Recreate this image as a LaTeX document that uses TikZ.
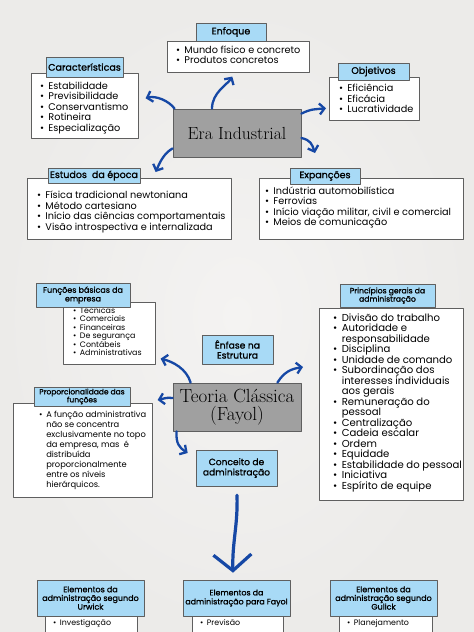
\documentclass[tikz,border=0pt]{standalone}
\usepackage{fontspec}
\usepackage{tikz}
\usetikzlibrary{arrows.meta}
\newfontfamily\popp{Poppins}
\newfontfamily\hdfont{Poppins}[FakeBold=1.2]
\definecolor{fundo}{RGB}{236,235,233}
\definecolor{fundoclaro}{RGB}{244,243,242}
\definecolor{azulcab}{RGB}{168,218,246}
\definecolor{cinzacaixa}{RGB}{160,160,160}
\definecolor{azulseta}{RGB}{22,72,165}
\definecolor{borda}{RGB}{95,95,95}
\newcommand{\bl}{\makebox[0.85em][l]{•}}
\newcommand{\ct}{\hspace*{0.85em}}
\newcommand{\fs}[2]{\fontsize{#1}{#2}\selectfont}

\begin{document}
\begin{tikzpicture}[x=1pt, y=-1pt, line join=round,
    corpo/.style={draw=borda, fill=white, line width=0.6pt, anchor=north west, inner sep=0pt},
    lista/.style={anchor=west, align=left, inner sep=0pt, font=\popp\fs{9.7}{10.5}},
    cab/.style={draw=borda, fill=azulcab, line width=0.6pt, align=center, inner sep=0pt, font=\hdfont\fs{9.5}{10}},
    central/.style={draw=borda, fill=cinzacaixa, line width=0.8pt, minimum width=128, minimum height=48, align=center, inner sep=0pt},
    seta/.style={draw=azulseta, line width=2.3pt, line cap=round, -{Straight Barb[length=5pt, width=11pt]}},
    setagrande/.style={draw=azulseta, line width=3.2pt, line cap=round, -{Straight Barb[length=16pt, width=38pt]}}]
    \useasboundingbox (0,0) rectangle (474,632);
    \clip (0,0) rectangle (474,632);
    \shade[inner color=fundoclaro, outer color=fundo] (0,0) rectangle (474,632);

    % Era Industrial
    \node[corpo, minimum width=142, minimum height=31] (enfC) at (167,41) {};
    \node[lista] (enfL) at (176,54.5) {\bl Mundo físico e concreto\\ \bl Produtos concretos};
    \node[cab, minimum width=70, minimum height=18] (enfH) at (231,32) {Enfoque};

    \node[corpo, minimum width=107, minimum height=65] (carC) at (31,73) {};
    \node[lista] (carL) at (40,108) {\bl Estabilidade\\ \bl Previsibilidade\\ \bl Conservantismo\\ \bl Rotineira\\ \bl Especialização};
    \node[cab, minimum width=77, minimum height=20] (carH) at (84.5,67) {Características};

    \node[corpo, minimum width=90, minimum height=43] (objC) at (329,77) {};
    \node[lista] (objL) at (339,98.5) {\bl Eficiência\\ \bl Eficácia\\ \bl Lucratividade};
    \node[cab, minimum width=71, minimum height=17] (objH) at (373.5,71.5) {Objetivos};

    \node[corpo, minimum width=204, minimum height=61] (estC) at (27,178) {};
    \node[lista] (estL) at (37,212) {\bl Física tradicional newtoniana\\ \bl Método cartesiano\\ \bl Início das ciências comportamentais\\ \bl Visão introspectiva e internalizada};
    \node[cab, minimum width=92, minimum height=15] (estH) at (94,175.5) {Estudos\ \ da época};

    \node[corpo, minimum width=204, minimum height=61] (expC) at (259,178) {};
    \node[lista] (expL) at (265,207.5) {\bl Indústria automobilística\\ \bl Ferrovias\\ \bl Início viação militar, civil e comercial\\ \bl Meios de comunicação};
    \node[cab, minimum width=70, minimum height=16] (expH) at (325,176) {Expanções};

    \node[central, font=\fs{17.5}{17}] (era) at (237,133) {Era Industrial};

    \draw[seta] ([shift={(2,0)}]era.north west) .. controls +(-6,-8) and +(10,-3) .. ([shift={(7,-7.5)}]carC.east);
    \draw[seta] ([shift={(-25,0)}]era.north) .. controls +(0,-16) and +(-5,8) .. ([shift={(-6,4)}]enfC.south);
    \draw[seta] ([shift={(0,5)}]era.north east) .. controls +(10,-5) and +(-10,1) .. ([shift={(-3,9.5)}]objC.west);
    \draw[seta] ([shift={(0,5)}]era.east) .. controls +(9,2) and +(-3,-9) .. ([shift={(56,-25)}]expC.north west);
    \draw[seta] ([shift={(0,-9)}]era.south west) .. controls +(-9,5) and +(4,-9) .. ([shift={(-76,-6)}]estC.north east);

    % Teoria Clássica
    \node[corpo, minimum width=92, minimum height=62] (funC) at (63,302) {};
    \node[lista, font=\popp\fs{7.9}{8.5}] (funL) at (73,331.5) {\bl Técnicas\\ \bl Comerciais\\ \bl Financeiras\\ \bl De segurança\\ \bl Contábeis\\ \bl Administrativas};
    \node[cab, minimum width=94, minimum height=24, font=\hdfont\fs{8}{8.7}] (funH) at (83,295) {Funções básicas da\\empresa};

    \node[cab, minimum width=71, minimum height=29, font=\hdfont\fs{9.2}{10}] (enfaseH) at (237.5,349.5) {Ênfase na\\Estrutura};

    \node[corpo, minimum width=144, minimum height=192] (prinC) at (319,308) {};
    \node[lista, font=\popp\fs{10.1}{10.5}] (prinL) at (333,402.5) {\bl Divisão do trabalho\\ \bl Autoridade e\\ \ct responsabilidade\\ \bl Disciplina\\ \bl Unidade de comando\\ \bl Subordinação dos\\ \ct interesses individuais\\ \ct aos gerais\\ \bl Remuneração do\\ \ct pessoal\\ \bl Centralização\\ \bl Cadeia escalar\\ \bl Ordem\\ \bl Equidade\\ \bl Estabilidade do pessoal\\ \bl Iniciativa\\ \bl Espírito de equipe};
    \node[cab, minimum width=95, minimum height=23, font=\hdfont\fs{7.7}{8.3}] (prinH) at (387.5,295.5) {Princípios gerais da\\administração};

    \node[corpo, minimum width=139, minimum height=94] (propC) at (13,403) {};
    \node[lista, font=\popp\fs{8.3}{10.1}] (propL) at (39,450.5) {\bl A função administrativa\\ \ct não se concentra\\ \ct exclusivamente no topo\\ \ct da empresa, mas\ \ é\\ \ct distribuída\\ \ct proporcionalmente\\ \ct entre os níveis\\ \ct hierárquicos.};
    \node[cab, minimum width=96, minimum height=19, font=\hdfont\fs{7.5}{8}] (propH) at (82,396.5) {Proporcionalidade das\\funções};

    \node[central, font=\fs{19}{17.5}] (teoria) at (237,407) {Teoria Clássica\\(Fayol)};

    \node[cab, minimum width=81, minimum height=36, font=\hdfont\fs{9.1}{10.3}] (concH) at (236.5,468) {Conceito de\\administração};

    \node[corpo, minimum width=92, minimum height=40] (urwC) at (45,616) {};
    \node[lista, anchor=north west, font=\popp\fs{7.9}{9}] (urwL) at (53,619.5) {\bl Investigação};
    \node[cab, minimum width=107, minimum height=36, font=\hdfont\fs{8}{8.7}] (urwH) at (90.5,598) {Elementos da\\administração segundo\\Urwick};

    \node[corpo, minimum width=91, minimum height=40] (fayC) at (192,616) {};
    \node[lista, anchor=north west, font=\popp\fs{7.9}{9}] (fayL) at (200,619.5) {\bl Previsão};
    \node[cab, minimum width=107, minimum height=36, font=\hdfont\fs{7.9}{9}] (fayH) at (236.5,598) {Elementos da\\administração para Fayol};

    \node[corpo, minimum width=93, minimum height=40] (gulC) at (339,616) {};
    \node[lista, anchor=north west, font=\popp\fs{7.9}{9}] (gulL) at (347,619.5) {\bl Planejamento};
    \node[cab, minimum width=107, minimum height=36, font=\hdfont\fs{8}{8.7}] (gulH) at (383.5,598) {Elementos da\\administração segundo\\Gulick};

    \draw[seta] ([shift={(18,0)}]teoria.north west) .. controls +(-4,-14) and +(12,3) .. ([shift={(5,-6)}]funC.south east);
    \draw[seta] ([shift={(-24,0)}]teoria.north east) .. controls +(7,-11) and +(-12,2) .. ([shift={(-16,59)}]prinC.north west);
    \draw[seta] ([shift={(0,-9)}]teoria.west) .. controls +(-6,-1) and +(5,-1) .. ([shift={(5,-3)}]propC.north east);
    \draw[seta] ([shift={(4,0)}]teoria.south west) .. controls +(-1,12) and +(-8,-5) .. ([shift={(-8,-15)}]concH.west);
    \draw[setagrande] ([shift={(0.5,9)}]concH.south) .. controls +(1,30) and +(-1,-30) .. ([shift={(-3.5,-7)}]fayH.north);
\end{tikzpicture}
\end{document}
